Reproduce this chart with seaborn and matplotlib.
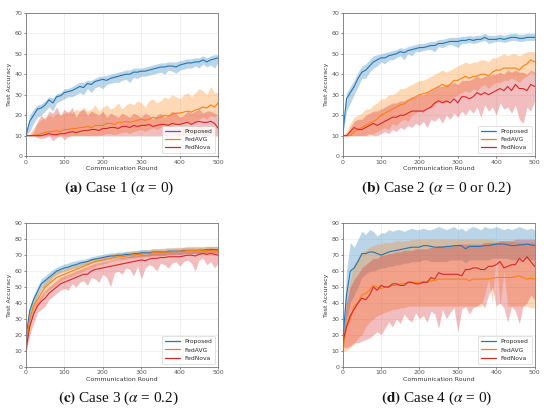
import matplotlib
matplotlib.use("Agg")
import matplotlib.pyplot as plt
import seaborn as sns
import numpy as np
import pandas as pd

# communication rounds (every 10 rounds)
rounds = list(range(0, 501, 10))
methods = ["Proposed", "FedAVG", "FedNova"]
palette = {"Proposed": "#1f77b4", "FedAVG": "#ff7f0e", "FedNova": "#d62728"}

# ---- Case 1 ----
a_prop = [10, 17, 20, 23, 23.5, 25, 27.5, 26, 29, 29.5, 31, 31.5, 32, 33, 34, 33.5, 35.5, 35, 36.5, 37,
          37.5, 37, 38, 38.5, 39, 39.5, 40, 40, 41, 41, 41.5, 41.5, 42, 42.5, 43, 43.5, 43.5, 44, 44, 43.5,
          44.5, 45, 45.5, 45.5, 46, 46, 47, 46, 47, 47.5, 48]
a_prop_lo = [10, 12, 16, 19, 20, 22, 24, 22, 26, 27, 28, 29, 29, 30, 31, 30, 33, 31, 33.5, 34,
             33, 35, 35.5, 36, 36, 37, 37.5, 36, 38.5, 38, 39, 39, 39.5, 40, 40.5, 41, 40, 42, 41.5, 40.5,
             42, 42.5, 43, 43, 44, 43, 45, 43.5, 44.5, 43, 46]
a_prop_hi = [10, 20, 23, 25, 25.5, 27, 29, 28.5, 30.5, 31, 33, 33, 34, 35, 36, 36, 37, 37, 38, 39,
             39, 39.5, 40, 40.5, 41, 41.5, 42, 42, 43, 43, 43, 43.5, 44, 44.5, 45, 45.5, 45.5, 46, 46, 46,
             46.5, 47, 47.5, 47.5, 48, 48, 49, 48, 49, 49.5, 49.5]
a_avg = [10, 10, 10, 10.5, 11, 11.5, 12, 12, 12.5, 12, 13, 13, 13.5, 13.5, 14, 14, 14.5, 14, 15, 15,
         15, 16, 16, 15.5, 16.5, 16.5, 17, 16.5, 17, 17.5, 18, 17.5, 18, 19, 18.5, 19, 20, 19.5, 20.5, 21,
         21, 21.5, 22, 21.5, 22.5, 23, 24, 23.5, 25, 24, 26]
a_avg_lo = [10, 10, 10, 10, 10, 10, 10, 10, 10, 10, 10, 10, 10, 10, 10, 10, 10, 10, 10, 10,
            10.5, 11, 11, 10.5, 11, 11.5, 12, 11, 12, 12.5, 13, 12, 13, 14, 13, 14, 15, 14, 15, 16,
            15.5, 16, 17, 16, 17, 18, 19, 18, 20, 19, 21]
a_avg_hi = [10, 11, 14, 16, 18, 19, 20, 19, 21, 20, 21, 22, 21, 23, 22, 24, 22, 23, 25, 22,
            24, 25, 23, 24, 26, 23, 25, 26, 25, 27, 26, 24, 27, 28, 26, 27, 29, 28, 30, 29,
            28, 30, 31, 29, 31, 33, 32, 30, 34, 31, 31]
a_nova = [10, 10, 10, 10, 10, 10.5, 11, 10.5, 10.5, 11, 11, 11.5, 12, 11.5, 12, 12.5, 12.5, 13, 13, 12.5,
          13.5, 13.5, 14, 14, 13.5, 14.5, 14.5, 14, 15, 14.5, 15, 15, 15.5, 14.5, 15, 15.5, 15.5, 15, 16, 15.5,
          15.5, 16, 16.5, 15.5, 16.5, 17, 16.5, 16.5, 17, 16, 13.5]
a_nova_lo = [10, 10, 10, 9, 8.5, 9, 10, 7.5, 9, 10, 8, 9.5, 10, 10, 10, 10, 10, 10, 10, 10,
             10, 10, 10, 10, 10, 10, 10, 10, 10, 10, 10, 10, 10, 10, 10, 10, 10, 10, 10, 10,
             10, 10, 10, 10, 10, 10, 10, 10, 10, 10, 10]
a_nova_hi = [10, 10, 12, 17, 20, 18, 22, 21, 24, 20, 23, 21, 24, 19, 22, 23, 20, 22, 21, 20,
             22, 19, 21, 20, 19, 21, 20, 19, 21, 20, 19, 21, 20, 18, 20, 21, 19, 20, 22, 21,
             19, 20, 22, 21, 22, 23, 21, 22, 22, 21, 20]

# ---- Case 2 ----
b_prop = [10, 28, 31, 34, 38, 41, 42, 44, 46, 47, 48, 48, 49, 49.5, 50, 51, 50.5, 51.5, 52, 52.5,
          53, 53, 53.5, 54, 54, 55, 55, 55.5, 56, 56, 56, 56.5, 56.5, 57, 56.5, 57, 57, 58, 57, 57,
          57, 57.5, 57, 57.5, 58, 58, 57.5, 57.5, 58, 58, 58]
b_prop_lo = [10, 22, 26, 30, 34, 38, 38, 41, 43, 44, 46, 45, 47, 47, 48, 49, 47, 50, 49, 51,
             51, 51.5, 52, 52, 51, 53.5, 53, 54, 54.5, 54, 53, 55, 55, 55.5, 55, 55.5, 56, 56.5, 55, 55.5,
             56, 56, 55.5, 56, 56.5, 56.5, 56, 56, 56.5, 56.5, 56.5]
b_prop_hi = [10, 31, 34, 37, 41, 44, 45, 47, 49, 49.5, 50, 50.5, 51, 51.5, 52, 53, 52.5, 53.5, 54, 54.5,
             55, 55, 55.5, 56, 56, 57, 57, 57.5, 58, 58, 58, 58.5, 58.5, 59, 58.5, 59, 59, 60, 59, 59,
             59, 59.5, 59, 59.5, 60, 60, 59.5, 59.5, 60, 60, 60]
b_avg = [10, 10, 10, 12, 13, 14, 15, 16, 17, 18, 20, 21, 22, 23, 24, 25, 25.5, 27, 28, 29,
         30, 30.5, 31, 32, 33, 34, 35, 34, 35, 37, 37, 38, 39, 38, 39, 39, 40, 40, 39, 41,
         42, 42, 43, 43, 43, 43, 42, 44, 45, 47, 46]
b_avg_lo = [10, 10, 10, 10, 10, 10, 10, 10, 11, 12, 13, 14, 13, 16, 15, 17, 18, 17, 20, 21,
            22, 21, 24, 23, 25, 27, 26, 26, 28, 29, 30, 31, 32, 31, 33, 32, 34, 35, 33, 35,
            36, 36, 37, 37, 38, 37, 36, 38, 39, 41, 40]
b_avg_hi = [10, 12, 16, 19, 20, 21, 23, 23, 25, 26, 28, 28, 30, 30, 31, 33, 33, 34, 35, 36,
            37, 37, 38, 39, 40, 41, 42, 41, 42, 43, 44, 45, 46, 45, 46, 46, 47, 47, 46, 48,
            48, 49, 50, 49, 50, 50, 49, 50, 51, 51, 51]
b_nova = [10, 10, 12, 14, 13, 13, 14, 15, 16, 15, 16, 17, 18, 19, 19, 20, 20, 21, 22, 22,
          22, 22, 23, 24, 26, 27, 26, 27, 26, 28, 26, 29, 29, 28, 29, 31, 30, 31, 30, 31,
          32, 33, 32, 34, 32, 35, 33, 33, 32, 35, 34]
b_nova_lo = [10, 10, 10, 10, 10, 10, 10, 11, 10, 10, 11, 12, 11, 13, 12, 14, 13, 15, 14, 16,
             15, 17, 14, 18, 17, 19, 16, 20, 18, 21, 19, 22, 20, 23, 21, 24, 19, 25, 22, 24,
             20, 26, 23, 24, 21, 25, 18, 16, 24, 22, 27]
b_nova_hi = [10, 10, 14, 17, 18, 18, 20, 21, 22, 22, 23, 24, 25, 26, 26, 27, 27, 28, 29, 29,
             30, 30, 31, 32, 33, 34, 34, 35, 35, 36, 35, 37, 37, 37, 38, 39, 38, 39, 39, 40,
             40, 41, 40, 42, 41, 42, 41, 41, 40, 42, 41]

# ---- Case 3 ----
c_prop = [18, 35, 42, 47, 52, 54, 56, 58, 60, 61, 62, 62.5, 63.5, 64, 65, 65.5, 66, 67, 67.5, 68,
          68.5, 69, 69.5, 69.5, 70, 70, 70.5, 70.5, 71, 71, 71.5, 71.5, 71.5, 72, 72, 72, 72, 72.5, 72.5, 72.5,
          72.5, 73, 73, 73, 73, 73, 73, 73.5, 73.5, 73.5, 73.5]
c_prop_lo = [14, 30, 38, 44, 49, 51, 53, 56, 58, 59, 60, 60.5, 61.5, 62, 63, 63.5, 64, 65, 65.5, 66,
             66.5, 67, 67.5, 67.5, 68, 68, 68.5, 68.5, 69, 69, 69.5, 69.5, 69.5, 70, 70, 70, 70, 70.5, 70.5, 70.5,
             70.5, 71, 71, 71, 71, 71, 71, 71.5, 71.5, 71.5, 71.5]
c_prop_hi = [22, 38, 45, 50, 55, 57, 59, 61, 62.5, 63.5, 64.5, 65, 66, 66.5, 67, 67.5, 68, 69, 69.5, 70,
             70.5, 71, 71.5, 71.5, 72, 72, 72.5, 72.5, 73, 73, 73.5, 73.5, 73.5, 74, 74, 74, 74, 74.5, 74.5, 74.5,
             74.5, 75, 75, 75, 75, 75, 75, 75.5, 75.5, 75.5, 75.5]
c_avg = [12, 30, 38, 42, 46, 50, 52, 54, 56, 57, 58, 59, 60, 61, 62, 63, 64, 65, 66, 66.5,
         67, 67.5, 68, 68.5, 69, 69, 69.5, 70, 70, 70.5, 70.5, 71, 71, 71.5, 71.5, 71.5, 72, 72, 72, 72.5,
         72.5, 72.5, 73, 73, 73, 73, 73, 73, 73, 73, 73]
c_avg_lo = [10, 26, 34, 38, 42, 46, 48, 50, 52, 54, 55, 56, 57, 58, 59, 60, 61, 62, 63, 64,
            64.5, 65, 66, 66.5, 67, 67, 67.5, 68, 68, 68.5, 68.5, 69, 69, 69.5, 69.5, 69.5, 70, 70, 70, 70.5,
            70.5, 70.5, 71, 71, 71, 71, 71, 71, 71, 71, 71]
c_avg_hi = [14, 34, 42, 46, 50, 54, 56, 58, 60, 60.5, 61.5, 62.5, 63.5, 64, 65, 66, 67, 68, 68.5, 69,
            69.5, 70, 70.5, 71, 71.5, 71.5, 72, 72.5, 72.5, 73, 73, 73.5, 73.5, 74, 74, 74, 74.5, 74.5, 74.5, 75,
            75, 75, 75.5, 75.5, 75.5, 75.5, 75.5, 75.5, 75.5, 75.5, 75.5]
c_nova = [10, 25, 33, 38, 41, 43, 46, 48, 50, 52, 53, 54, 55, 56, 57, 58, 58, 60, 61, 61.5,
          62, 62.5, 63, 63.5, 64, 64.5, 65, 65.5, 66, 66.5, 67, 66.5, 67.5, 68, 68, 68.5, 68.5, 69, 69, 69,
          69, 69.5, 70, 70, 69.5, 70.5, 71, 70.5, 71, 70.5, 70]
c_nova_lo = [8, 20, 27, 34, 36, 38, 42, 44, 46, 48, 49, 48, 52, 50, 53, 54, 51, 56, 55, 53,
             58, 56, 50, 59, 60, 58, 62, 61, 57, 63, 55, 62, 64, 63, 60, 65, 64, 62, 65, 66,
             63, 66, 67, 65, 60, 67, 68, 64, 66, 62, 65]
c_nova_hi = [12, 30, 38, 42, 45, 48, 50, 52, 54, 56, 57, 58, 59, 60, 61, 62, 63, 64, 65, 65.5,
             66, 66.5, 67, 67.5, 68, 68.5, 69, 69.5, 70, 70, 70.5, 70.5, 71, 71.5, 71.5, 72, 72, 72.5, 72.5, 72.5,
             72.5, 73, 73.5, 73.5, 73.5, 74, 74, 74, 74.5, 74, 73.5]

# ---- Case 4 ----
d_prop = [15, 45, 60, 62, 66, 71, 71, 72, 72, 71, 70, 71, 72, 72.5, 73, 73.5, 74, 74.5, 75, 75,
          75, 76, 76, 75.5, 75, 75, 75, 75.5, 75.5, 76, 76, 76, 74, 75.5, 75.5, 75.5, 75.5, 76, 76, 76.5,
          77, 77, 77, 76.5, 76, 76, 76.5, 76.5, 77, 76.5, 76]
d_prop_lo = [10, 30, 40, 45, 50, 56, 58, 60, 60, 61, 62, 62, 63, 63, 64, 64, 65, 65, 66, 66,
             66, 67, 67, 66, 66, 66, 66, 66, 67, 67, 67, 67, 65, 67, 67, 67, 67, 67, 67, 68,
             68, 68, 68, 68, 67, 67, 68, 68, 68, 67, 67]
d_prop_hi = [20, 60, 78, 75, 80, 85, 83, 86, 85, 82, 84, 84, 86, 85, 86, 86, 85, 86, 87, 86,
             86, 87, 86, 86, 87, 88, 87, 86, 87, 88, 86, 87, 85, 87, 88, 87, 86, 88, 87, 87,
             88, 87, 86, 87, 86, 87, 88, 87, 86, 87, 86]
d_avg = [10, 25, 30, 38, 40, 45, 46, 48, 51, 50, 49, 50, 50, 51, 51, 52, 52, 53, 53, 53,
         53, 53.5, 53, 54, 54, 55, 55, 55, 55, 55, 55, 55, 55, 54, 55, 55, 55, 55, 55, 55.5,
         56, 56, 56, 56, 56, 56.5, 57, 56, 55, 55.5, 55]
d_avg_lo = [9, 10, 12, 14, 18, 20, 25, 28, 30, 32, 33, 34, 35, 36, 36, 37, 37, 38, 38, 38,
            38, 38, 38, 38, 38, 38, 38, 38, 38, 38, 38, 38, 38, 38, 38, 38, 38, 45, 55, 40,
            70, 38, 60, 38, 38, 38, 38, 38, 38, 37, 37]
d_avg_hi = [12, 45, 55, 65, 68, 72, 73, 75, 76, 77, 77, 78, 78, 78, 79, 79, 79, 79, 80, 80,
            80, 80, 80, 80, 80, 80, 80, 80, 80, 80, 80, 80, 80, 80, 80, 80, 80, 80, 80, 80,
            79, 79, 79, 79, 79, 78, 78, 78, 78, 78, 78]
d_nova = [15, 25, 32, 36, 40, 43, 42, 45, 50, 48, 51, 50, 50, 52, 52, 51, 51, 53, 53, 52,
          52, 53, 53, 56, 55, 59, 58, 58, 58, 58, 58, 57, 61, 61, 62, 62, 61, 61, 63, 63,
          64, 66, 62, 63, 64, 64, 68, 66, 69, 66, 63]
d_nova_lo = [12, 12, 13, 15, 15, 16, 17, 18, 20, 22, 20, 24, 28, 25, 30, 27, 33, 30, 28, 34,
             30, 32, 28, 35, 33, 24, 36, 30, 34, 37, 22, 36, 38, 33, 37, 38, 40, 37, 45, 50,
             38, 40, 37, 28, 38, 35, 27, 38, 40, 45, 42]
d_nova_hi = [18, 40, 50, 55, 58, 62, 64, 66, 68, 68, 70, 70, 71, 71, 72, 72, 73, 73, 73, 74,
             74, 74, 74, 75, 75, 76, 76, 76, 76, 76, 77, 77, 77, 77, 77, 77, 77, 78, 78, 78,
             78, 79, 79, 79, 79, 80, 80, 80, 80, 80, 80]

panels = [
    (r"$\mathbf{(a)}$ Case 1 ($\alpha$ = 0)", 70,
     [(a_prop, a_prop_lo, a_prop_hi), (a_avg, a_avg_lo, a_avg_hi), (a_nova, a_nova_lo, a_nova_hi)]),
    (r"$\mathbf{(b)}$ Case 2 ($\alpha$ = 0 or 0.2)", 70,
     [(b_prop, b_prop_lo, b_prop_hi), (b_avg, b_avg_lo, b_avg_hi), (b_nova, b_nova_lo, b_nova_hi)]),
    (r"$\mathbf{(c)}$ Case 3 ($\alpha$ = 0.2)", 90,
     [(c_prop, c_prop_lo, c_prop_hi), (c_avg, c_avg_lo, c_avg_hi), (c_nova, c_nova_lo, c_nova_hi)]),
    (r"$\mathbf{(d)}$ Case 4 ($\alpha$ = 0)", 90,
     [(d_prop, d_prop_lo, d_prop_hi), (d_avg, d_avg_lo, d_avg_hi), (d_nova, d_nova_lo, d_nova_hi)]),
]

sns.set_theme(style="whitegrid", rc={
    "axes.edgecolor": "#777777",
    "axes.linewidth": 0.6,
    "grid.color": "#ececec",
    "grid.linewidth": 0.5,
    "xtick.bottom": True,
    "ytick.left": True,
    "xtick.major.size": 1.5,
    "ytick.major.size": 1.5,
    "xtick.major.width": 0.5,
    "ytick.major.width": 0.5,
    "xtick.color": "#555555",
    "ytick.color": "#555555",
    "mathtext.fontset": "stix",
})
plt.rcParams["font.family"] = ["DejaVu Sans"]

fig = plt.figure(figsize=(5.5, 4.12), dpi=100)

# axes positions (left, bottom, width, height) in figure fractions
positions = [
    (0.047, 0.621, 0.350, 0.348),
    (0.623, 0.621, 0.349, 0.348),
    (0.047, 0.110, 0.350, 0.348),
    (0.623, 0.110, 0.349, 0.348),
]
caption_xy = [(0.216, 0.543), (0.794, 0.543), (0.216, 0.032), (0.794, 0.032)]

for (caption, ymax, series), pos, cxy in zip(panels, positions, caption_xy):
    ax = fig.add_axes(pos)
    rows = []
    for name, (mean, lo, hi) in zip(methods, series):
        for r, m in zip(rounds, mean):
            rows.append({"Round": r, "Accuracy": m, "Method": name})
    df = pd.DataFrame(rows)

    # shaded min/max bands
    for name, (mean, lo, hi) in zip(methods, series):
        ax.fill_between(rounds, lo, hi, color=palette[name], alpha=0.3, linewidth=0)

    sns.lineplot(data=df, x="Round", y="Accuracy", hue="Method", hue_order=methods,
                 palette=palette, linewidth=0.8, ax=ax)

    ax.set_xlim(0, 500)
    ax.set_ylim(0, ymax)
    ax.set_xticks([0, 100, 200, 300, 400, 500])
    ax.set_yticks(list(range(0, ymax + 1, 10)))
    ax.tick_params(labelsize=4.5, pad=1)
    ax.set_xlabel("Communication Round", fontsize=4.5, labelpad=1, color="#333333")
    ax.set_ylabel("Test Accuracy", fontsize=4.5, labelpad=2, color="#333333")

    leg = ax.legend(loc="lower right", fontsize=4.3, frameon=True, handlelength=2.5,
                    borderpad=0.5, labelspacing=0.5)
    leg.get_frame().set_edgecolor("#cccccc")
    leg.get_frame().set_linewidth(0.5)
    for line in leg.get_lines():
        line.set_linewidth(0.9)

    fig.text(cxy[0], cxy[1], caption, ha="center", va="center",
             fontsize=11, family="Liberation Serif", color="#111111")

fig.savefig("out.png", dpi=100)
